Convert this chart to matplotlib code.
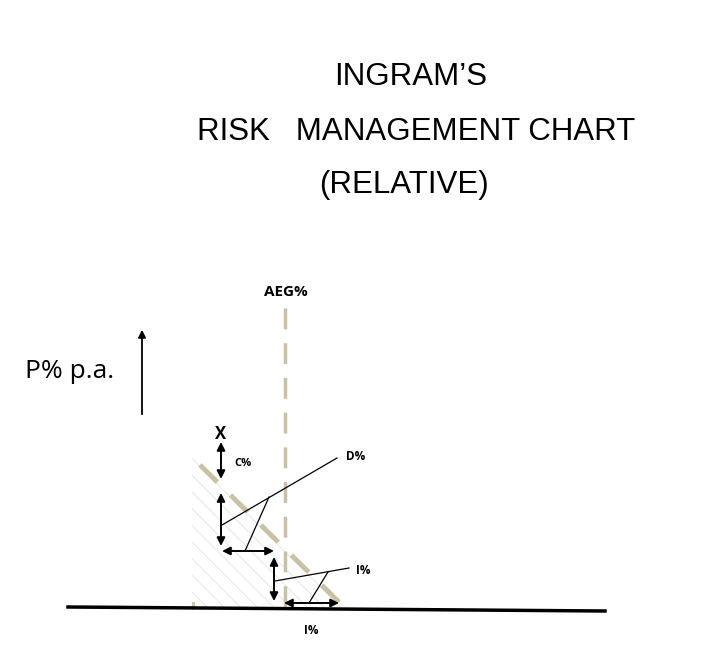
import matplotlib.pyplot as plt
from matplotlib.patches import Polygon

# title lines
title_lines = ["INGRAM\u2019S", "RISK   MANAGEMENT CHART", "(RELATIVE)"]
title_y = [77, 132, 185]
title_x = [411, 416, 404]

# diagram geometry (pixel coords, y down)
aeg_x = 285
aeg_top, aeg_bottom = 308, 608
diag_start = (200, 465)
diag_end = (345, 608)
base_start = (68, 607)
base_end = (605, 611)
hatch_poly = [(192, 455), (192, 607), (342, 607)]

# double-headed arrows: (x1, y1, x2, y2)
double_arrows = [
    (221, 442, 221, 479),   # C%
    (221, 493, 221, 546),   # D% vertical
    (222, 551, 274, 551),   # D% horizontal
    (274, 557, 274, 601),   # I% vertical
    (284, 603, 339, 603),   # I% horizontal
]
# leader lines
leaders = [
    ((222, 525), (337, 458)),
    ((269, 497), (245, 551)),
    ((275, 581), (349, 568)),
    ((328, 572), (309, 603)),
]
# labels: text, x, y, size
labels = [("X", 221, 434, 12), ("C%", 243, 463, 8), ("D%", 356, 456, 8.5),
          ("I%", 363, 571, 8.5), ("I%", 311, 630, 8.5), ("AEG%", 286, 292, 11)]

tan = "#c8c1a4"

fig = plt.figure(figsize=(7.15, 6.63), dpi=100)
ax = fig.add_axes([0, 0, 1, 1])
ax.set_xlim(0, 715)
ax.set_ylim(663, 0)
ax.axis("off")

for t, x, y in zip(title_lines, title_x, title_y):
    ax.text(x, y, t, ha="center", va="center", fontsize=22.5,
            family="Liberation Sans", color="black")

# hatched region
plt.rcParams["hatch.linewidth"] = 0.6
ax.add_patch(Polygon(hatch_poly, closed=True, facecolor="none",
                     edgecolor="#e4e4e4", hatch="\\\\", linewidth=0))
ax.plot([193, 193], [603, 608], color=tan, lw=2)

# AEG vertical dashed line
ax.plot([aeg_x, aeg_x], [aeg_top, aeg_bottom], color=tan, lw=2.5,
        dashes=(6, 4))

# diagonal dashed line
ax.plot([diag_start[0], diag_end[0]], [diag_start[1], diag_end[1]],
        color=tan, lw=3.5, dashes=(5, 3.8), solid_capstyle="butt")

# baseline
ax.plot([base_start[0], base_end[0]], [base_start[1], base_end[1]],
        color="black", lw=2.5)

# P% arrow
ax.annotate("", xy=(142, 327), xytext=(142, 417),
            arrowprops=dict(arrowstyle="-|>", color="black", lw=1.3,
                            mutation_scale=11))
ax.text(25, 372, "P% p.a.", ha="left", va="center", fontsize=19,
        family="Open Sans")

for x1, y1, x2, y2 in double_arrows:
    ax.annotate("", xy=(x2, y2), xytext=(x1, y1),
                arrowprops=dict(arrowstyle="<|-|>", color="black", lw=1.4,
                                mutation_scale=12, shrinkA=0, shrinkB=0))

for (p1, p2) in leaders:
    ax.plot([p1[0], p2[0]], [p1[1], p2[1]], color="black", lw=0.9)

for t, x, y, s in labels:
    ax.text(x, y, t, ha="center", va="center", fontsize=s,
            fontweight="bold", family="Open Sans")

fig.savefig("out.png", dpi=100)
